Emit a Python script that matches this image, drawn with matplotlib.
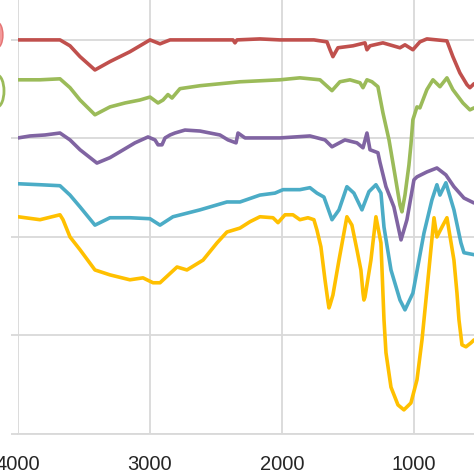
import matplotlib.pyplot as plt
from matplotlib.patches import Ellipse

# wavenumbers (cm-1) and offset transmittance
red_x = [4000, 3833, 3682, 3606, 3530, 3417, 3303, 3152, 3000, 2962, 2924, 2848, 2621, 2371, 2356, 2341,
         2167, 2015, 1864, 1758, 1659, 1636, 1614, 1576, 1462, 1371, 1356, 1333, 1235, 1106, 1068, 1008,
         955, 902, 750, 705, 652, 598, 576, 545]
red_y = [80.0, 80.0, 80.0, 78.8, 76.6, 73.9, 75.6, 77.6, 80.0, 79.6, 79.2, 80.0, 80.0, 80.0, 79.4, 80.0,
         80.2, 80.0, 80.0, 80.0, 79.6, 78.0, 76.6, 78.4, 78.8, 79.4, 78.0, 78.8, 79.4, 78.4, 79.0, 78.0,
         79.6, 80.2, 79.8, 76.6, 73.3, 70.9, 70.3, 71.1]

green_x = [4000, 3833, 3682, 3606, 3530, 3417, 3303, 3189, 3076, 3000, 2939, 2901, 2864, 2833, 2773, 2621,
           2318, 2015, 1864, 1712, 1621, 1561, 1485, 1409, 1386, 1356, 1318, 1273, 1235, 1189, 1144, 1106,
           1091, 1068, 1038, 1023, 1008, 977, 955, 902, 856, 803, 750, 705, 629, 576, 545]
green_y = [71.9, 71.9, 72.1, 70.3, 67.8, 64.8, 66.4, 67.2, 67.8, 68.4, 67.2, 67.8, 68.9, 68.2, 70.1, 70.7,
           71.5, 71.9, 72.3, 71.9, 69.7, 71.5, 71.9, 71.3, 70.3, 71.9, 71.5, 70.5, 65.2, 59.7, 52.6, 46.5,
           45.1, 48.5, 54.6, 58.7, 63.8, 66.4, 66.2, 69.9, 71.9, 70.5, 72.3, 69.9, 67.2, 65.8, 66.2]

purple_x = [4000, 3909, 3795, 3682, 3606, 3530, 3402, 3303, 3227, 3114, 3015, 2962, 2939, 2909, 2886, 2848,
            2811, 2735, 2621, 2470, 2409, 2348, 2333, 2280, 2015, 1788, 1674, 1621, 1523, 1432, 1386, 1356,
            1333, 1273, 1258, 1212, 1152, 1098, 1053, 1000, 977, 902, 826, 758, 697, 621, 545]
purple_y = [60.1, 60.5, 60.7, 61.1, 59.7, 57.7, 55.0, 56.1, 57.3, 59.1, 60.3, 59.7, 58.7, 58.7, 60.1, 60.7,
            61.1, 61.7, 61.5, 60.7, 59.7, 59.1, 61.1, 60.1, 60.1, 60.5, 59.7, 58.3, 59.7, 59.1, 58.1, 61.1,
            57.7, 57.1, 55.2, 50.2, 46.1, 39.4, 43.5, 51.6, 52.2, 53.2, 54.0, 52.6, 50.2, 47.9, 46.9]

cyan_x = [4000, 3833, 3682, 3606, 3530, 3417, 3303, 3152, 3000, 2924, 2826, 2621, 2417, 2318, 2167, 2053,
          1992, 1864, 1788, 1735, 1682, 1621, 1568, 1508, 1455, 1394, 1341, 1288, 1250, 1227, 1174, 1106,
          1068, 1008, 924, 864, 826, 803, 758, 697, 644, 621, 545]
cyan_y = [50.8, 50.6, 50.4, 48.5, 46.1, 42.4, 43.9, 43.9, 43.7, 42.4, 44.1, 45.5, 47.1, 47.1, 48.5, 48.9,
          49.6, 49.6, 50.0, 48.9, 48.1, 43.5, 45.5, 50.2, 48.9, 45.5, 49.2, 50.6, 48.9, 42.0, 33.3, 27.2,
          25.2, 28.6, 40.8, 47.5, 50.6, 48.5, 51.0, 45.5, 38.8, 36.8, 36.4]

yellow_x = [4000, 3833, 3682, 3659, 3606, 3530, 3417, 3303, 3152, 3053, 3023, 2977, 2924, 2795, 2720, 2598,
            2492, 2417, 2318, 2242, 2167, 2068, 2030, 1977, 1917, 1864, 1803, 1758, 1735, 1705, 1674, 1652,
            1644, 1636, 1614, 1568, 1508, 1470, 1432, 1402, 1386, 1379, 1371, 1356, 1326, 1288, 1250, 1227,
            1212, 1174, 1121, 1076, 1023, 977, 939, 894, 848, 826, 788, 750, 697, 674, 659, 636, 606, 568, 545]
yellow_y = [44.1, 43.5, 44.5, 43.5, 40.0, 37.4, 33.3, 32.3, 31.3, 31.7, 31.3, 30.7, 30.7, 33.9, 33.3, 35.3,
            38.8, 41.0, 41.8, 43.1, 44.1, 43.9, 42.9, 44.5, 44.5, 43.5, 43.9, 43.5, 41.4, 38.0, 31.3, 27.0,
            25.6, 26.2, 28.2, 35.3, 44.1, 42.4, 37.4, 33.3, 28.6, 27.2, 27.8, 30.3, 35.3, 44.1, 38.8, 23.2,
            16.5, 9.5, 5.9, 4.9, 6.3, 11.0, 19.1, 31.3, 43.9, 40.0, 42.0, 43.9, 35.3, 28.6, 23.2, 18.1, 17.7,
            18.5, 19.1]

series = [
    (red_x, red_y, '#C0504D'),
    (green_x, green_y, '#9BBB59'),
    (purple_x, purple_y, '#8064A2'),
    (cyan_x, cyan_y, '#4BACC6'),
    (yellow_x, yellow_y, '#FFC000'),
]
xticks = [4000, 3000, 2000, 1000]

fig = plt.figure(figsize=(4.74, 4.74), dpi=100)
ax = fig.add_axes([18 / 474, 40 / 474, 456 / 474, 434 / 474])

for xs, ys, c in series:
    ax.plot(xs, ys, color=c, lw=2.6, solid_joinstyle='round', solid_capstyle='round')

ax.set_xlim(4000, 545)
ax.set_ylim(0, 88.1)
ax.set_xticks(xticks)
ax.set_xticklabels([str(t) for t in xticks], fontsize=14.5, color='#262626', family='Liberation Sans')
ax.set_yticks([0, 20, 40, 60, 80])
ax.set_yticklabels([])
ax.tick_params(axis='x', length=0, pad=15)
ax.tick_params(axis='y', length=5, color='#d9d9d9', width=1.3)
ax.grid(True, color='#d9d9d9', lw=1.3)
ax.set_axisbelow(True)
for s in ['top', 'right', 'left']:
    ax.spines[s].set_visible(False)
ax.spines['bottom'].set_color('#d9d9d9')
ax.spines['bottom'].set_linewidth(1.3)

# bits of the legend showing at the left edge
fig.add_artist(Ellipse((-0.03, 4.39), 0.12, 0.26, transform=fig.dpi_scale_trans,
                       facecolor='#f08080', edgecolor='#e06060', alpha=0.8))
fig.add_artist(Ellipse((-0.03, 3.83), 0.14, 0.32, transform=fig.dpi_scale_trans,
                       facecolor='none', edgecolor='#9BBB59', lw=2))

fig.savefig('out.png', dpi=100)
